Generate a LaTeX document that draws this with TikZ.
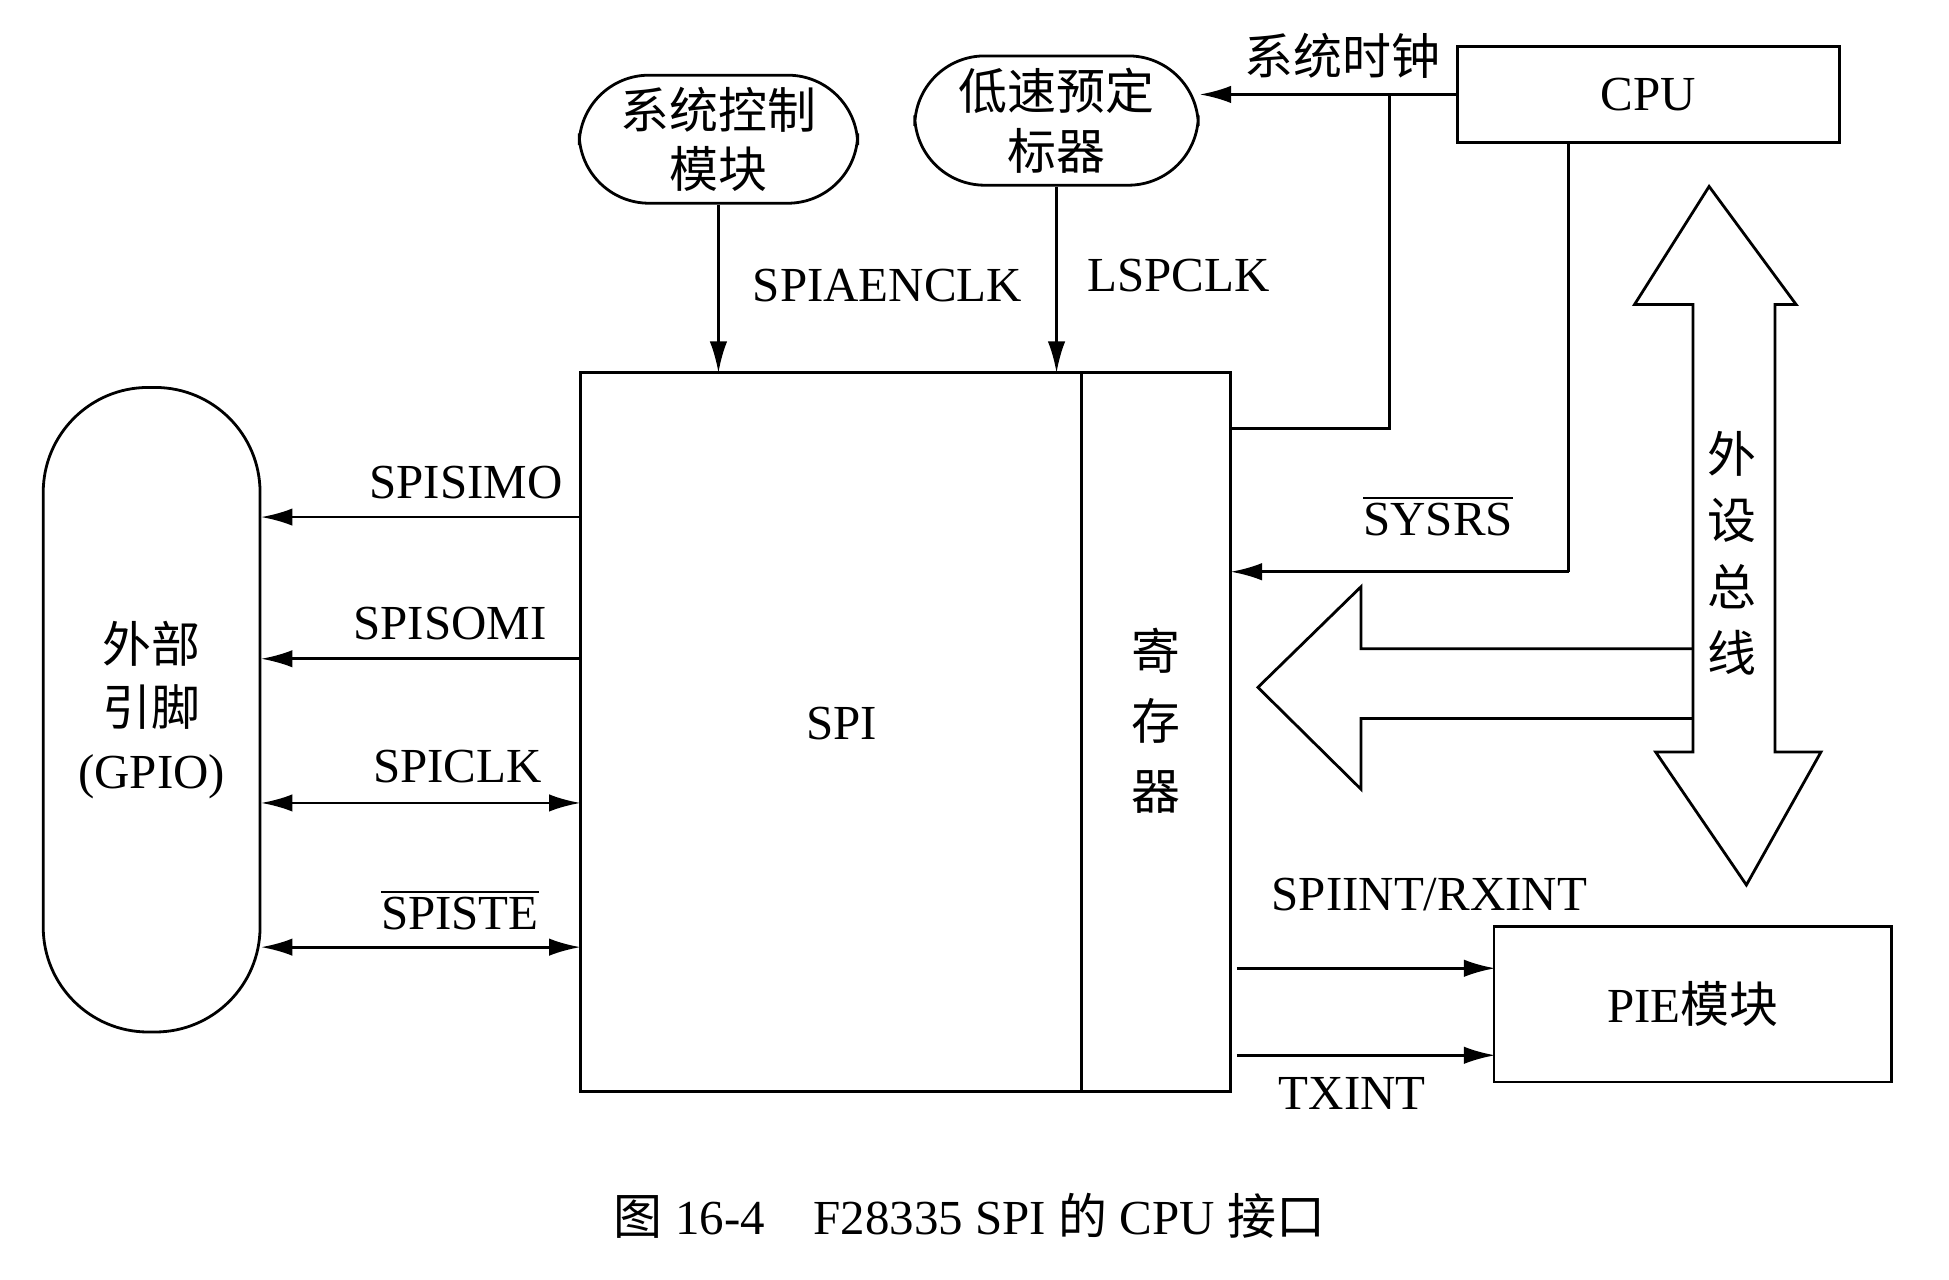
\documentclass[tikz,border=0pt]{standalone}
\usepackage{fontspec}
\setmainfont{Liberation Serif}
\newfontfamily\cjk{Noto Sans CJK SC}
\usetikzlibrary{arrows.meta}
\begin{document}
\begin{tikzpicture}[x=0.0125cm,y=-0.0125cm,
  every node/.style={font=\fontsize{14}{16}\selectfont},
  ln/.style={line width=0.8pt},
  arr/.style={ln,-{Latex[length=9pt,width=5pt]}},
  darr/.style={ln,{Latex[length=9pt,width=5pt]}-{Latex[length=9pt,width=5pt]}}]
\useasboundingbox (0,0) rectangle (1568,1029);
% top blocks
\node[draw,ln,rounded corners=20pt,minimum width=2.8cm,minimum height=1.2cm,align=center,font=\cjk\fontsize{14}{17}\selectfont] (ctrl) at (578,112) {系统控制\\模块};
\node[draw,ln,rounded corners=20pt,minimum width=2.85cm,minimum height=1.3cm,align=center,font=\cjk\fontsize{14}{17}\selectfont] (lsp) at (850,97) {低速预定\\标器};
\node[draw,ln,minimum width=3.84cm,minimum height=0.96cm] (cpu) at (1326,76) {CPU};
% SPI box
\draw[ln] (467,300) rectangle (990,878);
\draw[ln] (870,300) -- (870,878);
\coordinate (spitop1) at (578,300);
\coordinate (spitop2) at (850,300);
\node (spi) at (677,582) {SPI};
\node[font=\cjk\fontsize{14}{20}\selectfont,align=center] (reg) at (930,580) {寄\\存\\器};
\draw[arr] (ctrl.south) -- (spitop1);
\node at (714,230) {SPIAENCLK};
\draw[arr] (lsp.south) -- (spitop2);
\node at (948,222) {LSPCLK};
\coordinate (cpuw) at (cpu.west |- 0,76);
\draw[arr] (cpu.west) -- (cpu.west -| lsp.east);
\node[font=\cjk\fontsize{14}{16}\selectfont] at (1080,45) {系统时钟};
\coordinate (clk1) at (1118,76);
\coordinate (clk2) at (990,345);
\draw[ln] (clk1) -- (1118,345) -- (clk2);
\coordinate (rs1) at (1262,115);
\coordinate (rs2) at (990,460);
\draw[ln] (rs1) -- (1262,460);
\draw[arr] (1262,460) -- (rs2);
\node at (1157,415) {$\overline{\mbox{SYSRS}}$};
% GPIO
\node[draw,ln,rounded corners=30pt,minimum width=2.18cm,minimum height=6.48cm,align=center] (gpio) at (122,571) {{\cjk 外部}\\[2pt]{\cjk 引脚}\\[2pt](GPIO)};
\coordinate (g1) at (210,416); \coordinate (s1) at (467,416);
\coordinate (g2) at (210,530); \coordinate (s2) at (467,530);
\coordinate (g3) at (210,646); \coordinate (s3) at (467,646);
\coordinate (g4) at (210,762); \coordinate (s4) at (467,762);
\draw[arr] (s1) -- (g1);
\draw[arr] (s2) -- (g2);
\draw[darr] (g3) -- (s3);
\draw[darr] (g4) -- (s4);
\node at (375,388) {SPISIMO};
\node at (362,502) {SPISOMI};
\node at (368,617) {SPICLK};
\node at (370,732) {$\overline{\mbox{SPISTE}}$};
% bus arrow
\draw[ln] (1375,150) -- (1445,245) -- (1428,245) -- (1428,605) -- (1465,605) -- (1405,712) -- (1332,605) -- (1362,605) -- (1362,245) -- (1315,245) -- cycle;
\node[font=\cjk\fontsize{14}{19}\selectfont,align=center] (bus) at (1393,445) {外\\设\\总\\线};
\draw[ln] (1362,522) -- (1095,522) -- (1095,472) -- (1012,553) -- (1095,635) -- (1095,578) -- (1362,578);
% PIE
\node[draw,ln,minimum width=4cm,minimum height=1.56cm] (pie) at (1362,808) {PIE{\cjk 模块}};
\coordinate (i1) at (995,779); \coordinate (i2) at (1203,779);
\coordinate (t1) at (995,849); \coordinate (t2) at (1203,849);
\draw[arr] (i1) -- (i2);
\draw[arr] (t1) -- (t2);
\node at (1150,720) {SPIINT/RXINT};
\node at (1088,880) {TXINT};
\node (cap) at (780,978) {{\cjk 图} 16-4\quad F28335 SPI {\cjk 的} CPU {\cjk 接口}};
\end{tikzpicture}
\end{document}
